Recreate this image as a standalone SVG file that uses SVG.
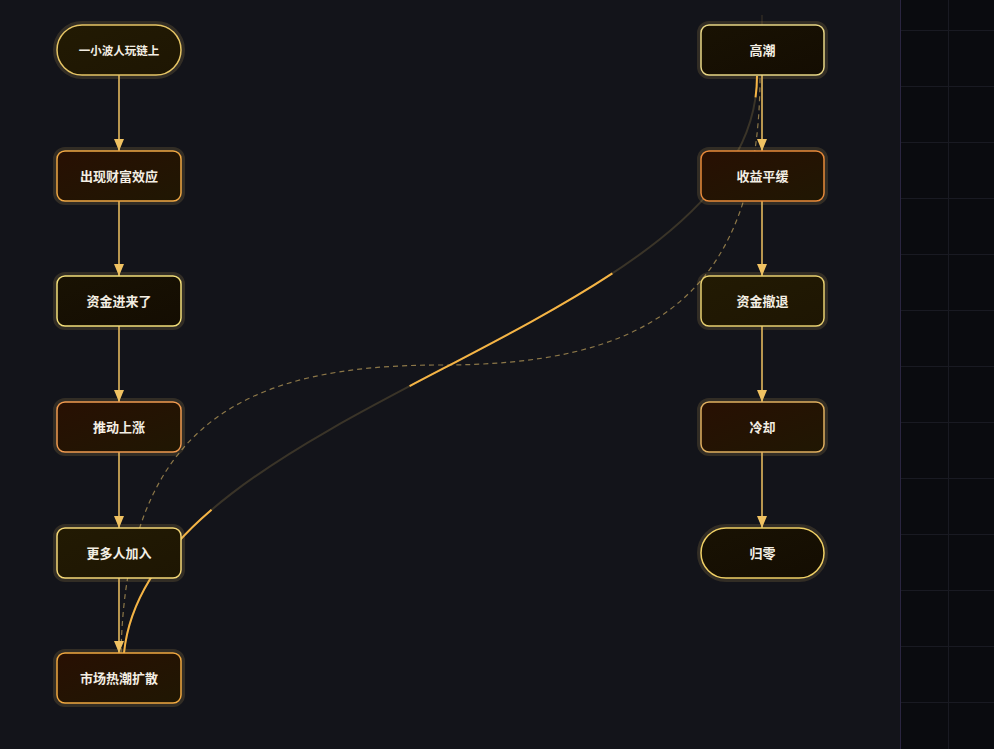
<svg xmlns="http://www.w3.org/2000/svg" width="994" height="749" viewBox="0 0 994 749">
<style>
.halo{fill:none;stroke:rgba(205,170,95,0.17);stroke-width:8}
.lbl{font-family:"Noto Sans CJK SC","Noto Sans",sans-serif;font-weight:700;font-size:13px;fill:#f3eee3;text-anchor:middle}
.edge{stroke:#f0c262;stroke-width:1.5;fill:none}
.grid{stroke:#191a22;stroke-width:1}
</style>
<defs>
<marker id="arr" viewBox="0 0 12 10" refX="12" refY="5" markerWidth="12" markerHeight="10" markerUnits="userSpaceOnUse" orient="auto">
<path d="M0,0 L12,5 L0,10 Z" fill="#f0c262"/>
</marker>
<linearGradient id="gOr" x1="0" y1="0" x2="1" y2="1"><stop offset="0" stop-color="#281003"/><stop offset="1" stop-color="#201703"/></linearGradient>
<linearGradient id="gYe" x1="0" y1="0" x2="1" y2="1"><stop offset="0" stop-color="#221a03"/><stop offset="1" stop-color="#1e1603"/></linearGradient>
<linearGradient id="gDk" x1="0" y1="0" x2="1" y2="1"><stop offset="0" stop-color="#191203"/><stop offset="1" stop-color="#140d02"/></linearGradient>
</defs>
<rect x="0" y="0" width="994" height="749" fill="#13141a"/>
<g id="panel">
<rect x="900" y="0" width="94" height="749" fill="#0a0b0f"/>
<line class="grid" x1="948.5" y1="0" x2="948.5" y2="749"/>
<line class="grid" x1="900" y1="30.5" x2="994" y2="30.5"/>
<line class="grid" x1="900" y1="86.5" x2="994" y2="86.5"/>
<line class="grid" x1="900" y1="142.5" x2="994" y2="142.5"/>
<line class="grid" x1="900" y1="198.5" x2="994" y2="198.5"/>
<line class="grid" x1="900" y1="254.5" x2="994" y2="254.5"/>
<line class="grid" x1="900" y1="310.5" x2="994" y2="310.5"/>
<line class="grid" x1="900" y1="366.5" x2="994" y2="366.5"/>
<line class="grid" x1="900" y1="422.5" x2="994" y2="422.5"/>
<line class="grid" x1="900" y1="478.5" x2="994" y2="478.5"/>
<line class="grid" x1="900" y1="534.5" x2="994" y2="534.5"/>
<line class="grid" x1="900" y1="590.5" x2="994" y2="590.5"/>
<line class="grid" x1="900" y1="646.5" x2="994" y2="646.5"/>
<line class="grid" x1="900" y1="702.5" x2="994" y2="702.5"/>
<line x1="900.5" y1="0" x2="900.5" y2="749" stroke="#2a2540" stroke-width="1"/>
</g>
<g id="connectors">
<path d="M121,653 C 126,420 250,365 441,365 C 632,365 760,309 760,76" fill="none" stroke="#8c7748" stroke-width="1.2" stroke-dasharray="5 4"/>
<path d="M124,653 C 150,400 757,330 757,76" fill="none" stroke="#3a3428" stroke-width="2"/>
<path d="M124,653 C 150,400 757,330 757,76" fill="none" stroke="#f5b445" stroke-width="2" stroke-dasharray="232 234" stroke-dashoffset="60"/>
<line x1="762" y1="15" x2="762" y2="26" stroke="#5a4c30" stroke-width="1" opacity="0.6"/>
<line class="edge" x1="119" y1="75" x2="119" y2="151" marker-end="url(#arr)"/>
<line class="edge" x1="119" y1="201" x2="119" y2="276" marker-end="url(#arr)"/>
<line class="edge" x1="119" y1="326" x2="119" y2="402" marker-end="url(#arr)"/>
<line class="edge" x1="119" y1="452" x2="119" y2="528" marker-end="url(#arr)"/>
<line class="edge" x1="119" y1="578" x2="119" y2="653" marker-end="url(#arr)"/>
<line class="edge" x1="762" y1="75" x2="762" y2="151" marker-end="url(#arr)"/>
<line class="edge" x1="762" y1="201" x2="762" y2="276" marker-end="url(#arr)"/>
<line class="edge" x1="762" y1="326" x2="762" y2="402" marker-end="url(#arr)"/>
<line class="edge" x1="762" y1="452" x2="762" y2="528" marker-end="url(#arr)"/>
</g>
<g id="n1">
<rect class="halo" x="57" y="25" width="124" height="50" rx="25"/>
<rect x="57" y="25" width="124" height="50" rx="25" fill="url(#gYe)" stroke="#e6c565" stroke-width="1.5"/>
<text class="lbl" x="119" y="54.5" style="font-size:11.5px">一小波人玩链上</text>
</g>
<g id="n2">
<rect class="halo" x="57" y="151" width="124" height="50" rx="8"/>
<rect x="57" y="151" width="124" height="50" rx="8" fill="url(#gOr)" stroke="#f0a844" stroke-width="1.5"/>
<text class="lbl" x="119" y="180.5">出现财富效应</text>
</g>
<g id="n3">
<rect class="halo" x="57" y="276" width="124" height="50" rx="8"/>
<rect x="57" y="276" width="124" height="50" rx="8" fill="url(#gDk)" stroke="#f2de7a" stroke-width="1.5"/>
<text class="lbl" x="119" y="305.5">资金进来了</text>
</g>
<g id="n4">
<rect class="halo" x="57" y="402" width="124" height="50" rx="8"/>
<rect x="57" y="402" width="124" height="50" rx="8" fill="url(#gOr)" stroke="#f09a50" stroke-width="1.5"/>
<text class="lbl" x="119" y="431.5">推动上涨</text>
</g>
<g id="n5">
<rect class="halo" x="57" y="528" width="124" height="50" rx="8"/>
<rect x="57" y="528" width="124" height="50" rx="8" fill="url(#gYe)" stroke="#f5d878" stroke-width="1.5"/>
<text class="lbl" x="119" y="557.5">更多人加入</text>
</g>
<g id="n6">
<rect class="halo" x="57" y="653" width="124" height="50" rx="8"/>
<rect x="57" y="653" width="124" height="50" rx="8" fill="url(#gOr)" stroke="#f0a840" stroke-width="1.5"/>
<text class="lbl" x="119" y="682.5">市场热潮扩散</text>
</g>
<g id="r1">
<rect class="halo" x="701" y="25" width="123" height="50" rx="8"/>
<rect x="701" y="25" width="123" height="50" rx="8" fill="url(#gDk)" stroke="#e8d685" stroke-width="1.5"/>
<text class="lbl" x="762.5" y="54.5">高潮</text>
</g>
<g id="r2">
<rect class="halo" x="701" y="151" width="123" height="50" rx="8"/>
<rect x="701" y="151" width="123" height="50" rx="8" fill="url(#gOr)" stroke="#e88a3a" stroke-width="1.5"/>
<text class="lbl" x="762.5" y="180.5">收益平缓</text>
</g>
<g id="r3">
<rect class="halo" x="701" y="276" width="123" height="50" rx="8"/>
<rect x="701" y="276" width="123" height="50" rx="8" fill="url(#gYe)" stroke="#e8d070" stroke-width="1.5"/>
<text class="lbl" x="762.5" y="305.5">资金撤退</text>
</g>
<g id="r4">
<rect class="halo" x="701" y="402" width="123" height="50" rx="8"/>
<rect x="701" y="402" width="123" height="50" rx="8" fill="url(#gOr)" stroke="#e0b060" stroke-width="1.5"/>
<text class="lbl" x="762.5" y="431.5">冷却</text>
</g>
<g id="r5">
<rect class="halo" x="701" y="528" width="123" height="50" rx="25"/>
<rect x="701" y="528" width="123" height="50" rx="25" fill="url(#gDk)" stroke="#f0d065" stroke-width="1.5"/>
<text class="lbl" x="762.5" y="557.5">归零</text>
</g>
</svg>
